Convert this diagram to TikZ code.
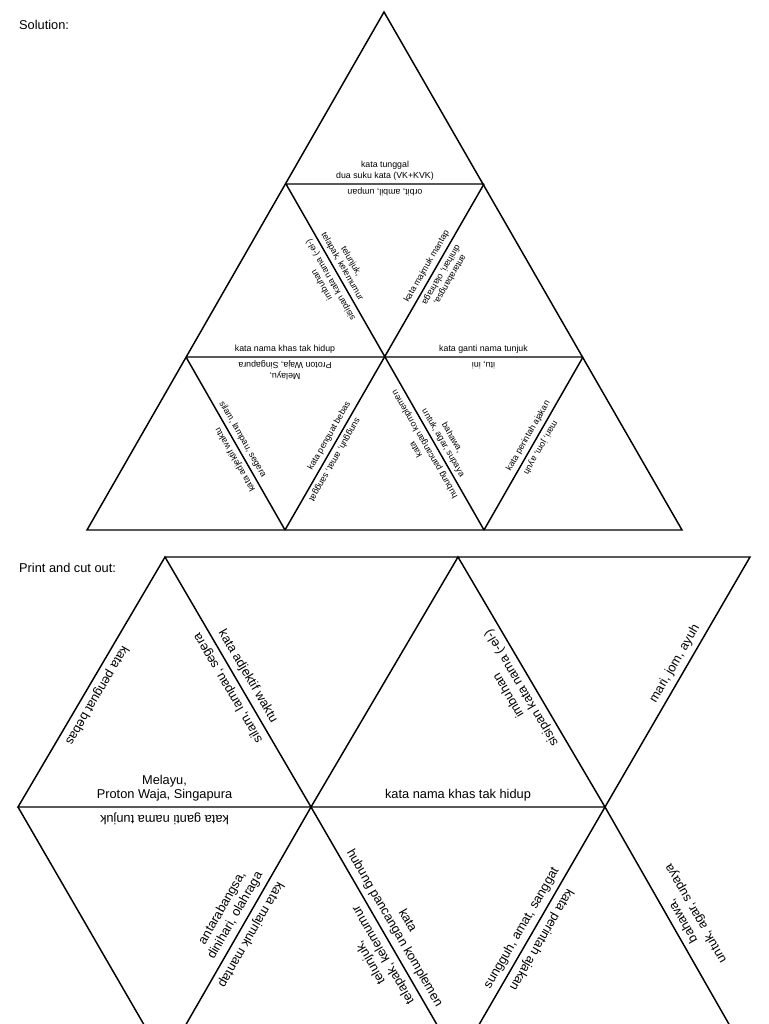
\documentclass[tikz,border=0pt]{standalone}
\usepackage{fontspec}
\setmainfont{Liberation Sans}
\begin{document}
\begin{tikzpicture}[x=0.75pt,y=-0.75pt,line width=1.1pt,
    small/.style={font=\fontsize{6.6}{7.6}\selectfont,align=center,inner sep=2.5pt},
    big/.style={font=\fontsize{9.6}{11.2}\selectfont,align=center,inner sep=3.5pt},
    on/.style={midway,sloped,allow upside down}]
  \useasboundingbox (0,0) rectangle (768,1024);
  % Solution triangle
  \coordinate (A) at (384,12);
  \coordinate (B1) at (286,184); \coordinate (B2) at (484,184);
  \coordinate (C1) at (186,357); \coordinate (C2) at (384,357); \coordinate (C3) at (583,357);
  \coordinate (D1) at (87,530); \coordinate (D2) at (285,530);
  \coordinate (D3) at (484,530); \coordinate (D4) at (682,530);
  \node[anchor=west,font=\fontsize{9.6}{11}\selectfont] (sol) at (14,25) {Solution:};
  \draw (A) -- (D1) -- (D4) -- cycle;
  \draw (B1) -- (B2) (B1) -- (D3) (B2) -- (D2);
  \draw (C1) -- (C3) (C1) -- (D2) (C3) -- (D3);
  % Labels, solution
  \path (B1) -- (B2) node[on,above,small] (s1) {kata tunggal\\dua suku kata (VK+KVK)};
  \path (B2) -- (B1) node[on,above,small] (s2) {orbit, ambil, umpan};
  \path (B1) -- (C2) node[on,above,small] (s3) {telunjuk,\\telapak, kelemumur};
  \path (C2) -- (B1) node[on,above,small,pos=.47] (s4) {imbuhan\\sisipan kata nama (-el-)};
  \path (C2) -- (B2) node[on,above,small] (s5) {kata majmuk mantap};
  \path (B2) -- (C2) node[on,above,small] (s6) {antarabangsa,\\dinihari, olahraga};
  \path (C1) -- (C2) node[on,above,small] (s7) {kata nama khas tak hidup};
  \path (C2) -- (C3) node[on,above,small] (s8) {kata ganti nama tunjuk};
  \path (C2) -- (C1) node[on,above,small] (s9) {Melayu,\\Proton Waja, Singapura};
  \path (C3) -- (C2) node[on,above,small] (s10) {itu, ini};
  \path (C1) -- (D2) node[on,above,small] (s11) {silam, lampau, segera};
  \path (D2) -- (C1) node[on,above,small,pos=.43] (s12) {kata adjektif waktu};
  \path (D2) -- (C2) node[on,above,small,pos=.52] (s13) {kata penguat bebas};
  \path (C2) -- (D2) node[on,above,small,pos=.57] (s14) {sungguh, amat, sanggat};
  \path (D3) -- (C2) node[on,above,small,pos=.52] (s15) {kata\\hubung pancangan komplemen};
  \path (C2) -- (D3) node[on,above,small,pos=.52] (s16) {bahawa,\\untuk, agar, supaya};
  \path (D3) -- (C3) node[on,above,small,pos=.52] (s17) {kata perintah ajakan};
  \path (C3) -- (D3) node[on,above,small] (s18) {mari, jom, ayuh};
  % Print and cut out
  \coordinate (P1) at (165,557); \coordinate (P2) at (458,557); \coordinate (P3) at (750,557);
  \coordinate (M0) at (18,807); \coordinate (M1) at (311,807); \coordinate (M2) at (605,807);
  \coordinate (L0) at (165,1061); \coordinate (L1) at (458,1061); \coordinate (L2) at (750,1061);
  \node[anchor=west,font=\fontsize{9.6}{11}\selectfont] (cut) at (14,568) {Print and cut out:};
  \begin{scope}
    \clip (0,0) rectangle (768,1024);
    \draw (P1) -- (P3) -- (M2) -- (P2) -- (M1) -- (P1) -- (M0) -- (M2);
    \draw (M0) -- (L0) -- (M1) -- (L1) -- (M2) -- (L2);
  \end{scope}
  % Labels, pieces
  \path (P1) -- (M0) node[on,above,big,pos=.53] (p1) {kata penguat bebas};
  \path (M1) -- (P1) node[on,above,big,pos=.5] (p2) {silam, lampau, segera};
  \path (P1) -- (M1) node[on,above,big,pos=.5] (p3) {kata adjektif waktu};
  \path (M0) -- (M1) node[on,above,big] (p4) {Melayu,\\Proton Waja, Singapura};
  \path (M1) -- (M2) node[on,above,big] (p5) {kata nama khas tak hidup};
  \path (M2) -- (P2) node[on,above,big,pos=.5] (p6) {imbuhan\\sisipan kata nama (-el-)};
  \path (M2) -- (P3) node[on,above,big,pos=.55] (p7) {mari, jom, ayuh};
  \path (M1) -- (M0) node[on,above,big] (p8) {kata ganti nama tunjuk};
  \path (L0) -- (M1) node[on,above,big,pos=.55] (p9) {antarabangsa,\\dinihari, olahraga};
  \path (M1) -- (L0) node[on,above,big,pos=.48] (p10) {kata majmuk mantap};
  \path (L1) -- (M1) node[on,above,big,pos=.44] (p11) {telunjuk,\\telapak, kelemumur};
  \path (M1) -- (L1) node[on,above,big,pos=.5] (p12) {kata\\hubung pancangan komplemen};
  \path (L1) -- (M2) node[on,above,big,pos=.5] (p13) {sungguh, amat, sanggat};
  \path (M2) -- (L1) node[on,above,big,pos=.5] (p14) {kata perintah ajakan};
  \path (L2) -- (M2) node[on,below,big,pos=.53] (p15) {bahawa,\\untuk, agar, supaya};
\end{tikzpicture}
\end{document}
